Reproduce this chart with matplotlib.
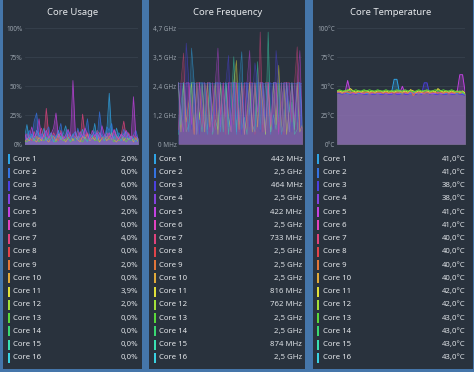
import numpy as np
import matplotlib
matplotlib.use("Agg")
import matplotlib.pyplot as plt
from matplotlib.patches import Rectangle

plt.rcParams['font.family'] = ['Noto Sans', 'DejaVu Sans']

W, H = 474, 372

# ---------------- data ----------------
titles = ["Core Usage", "Core Frequency", "Core Temperature"]
core_names = [f"Core {i}" for i in range(1, 17)]
core_colors = ["#2fa3e3", "#3472e0", "#4b40de", "#8442de", "#c242e0", "#e042bf",
               "#e0437d", "#e0444a", "#e0753a", "#e0aa3a", "#e0e03a", "#a2e03a",
               "#5ad83a", "#3ad872", "#3ae0b2", "#3ad2e2"]

usage_values = ["2,0%", "0,0%", "6,0%", "0,0%", "2,0%", "0,0%", "4,0%", "0,0%",
                "2,0%", "0,0%", "3,9%", "2,0%", "0,0%", "0,0%", "0,0%", "0,0%"]
freq_values = ["442 MHz", "2,5 GHz", "464 MHz", "2,5 GHz", "422 MHz", "2,5 GHz",
               "733 MHz", "2,5 GHz", "2,5 GHz", "2,5 GHz", "816 MHz", "762 MHz",
               "2,5 GHz", "2,5 GHz", "874 MHz", "2,5 GHz"]
temp_values = ["41,0°C", "41,0°C", "38,0°C", "38,0°C", "41,0°C", "41,0°C",
               "40,0°C", "40,0°C", "40,0°C", "40,0°C", "42,0°C", "42,0°C",
               "43,0°C", "43,0°C", "43,0°C", "43,0°C"]

usage_ticks = ["0%", "25%", "50%", "75%", "100%"]
freq_ticks = ["0 MHz", "1,2 GHz", "2,4 GHz", "3,5 GHz", "4,7 GHz"]
temp_ticks = ["0°C", "25°C", "50°C", "75°C", "100°C"]

# usage history (%), per core
usage_core1 = [6, 17, 4, 9, 3, 12, 8, 5, 14, 3, 7, 10, 2, 6, 12, 4, 9, 16, 5, 3, 8, 11, 4, 7,
               13, 5, 2, 9, 6, 18, 4, 10, 7, 3, 12, 44, 8, 5, 14, 6, 3, 9, 11, 4, 7, 5, 2, 6]
usage_core2 = [3, 8, 12, 5, 20, 27, 6, 9, 4, 11, 15, 3, 8, 6, 10, 18, 4, 7, 12, 5, 9, 3, 14, 6,
               8, 10, 22, 4, 7, 11, 5, 28, 9, 6, 15, 12, 18, 4, 8, 10, 6, 13, 5, 9, 3, 8, 12, 4]
usage_core5 = [10, 4, 7, 15, 6, 9, 22, 4, 8, 12, 5, 9, 14, 27, 6, 10, 4, 8, 13, 7, 55, 9, 5, 11,
               6, 14, 8, 4, 12, 7, 10, 5, 16, 8, 6, 10, 4, 13, 7, 5, 9, 6, 12, 8, 4, 41, 7, 5]
usage_core7 = [4, 9, 6, 3, 11, 5, 8, 14, 6, 31, 8, 4, 10, 6, 3, 12, 7, 5, 9, 4, 8, 6, 12, 4,
               26, 7, 10, 5, 8, 6, 12, 9, 4, 7, 10, 5, 8, 12, 6, 4, 9, 20, 6, 10, 5, 8, 4, 6]
usage_core10 = [2, 5, 3, 7, 4, 2, 6, 3, 8, 4, 2, 5, 7, 3, 9, 4, 6, 2, 5, 8, 3, 6, 4, 2,
                7, 5, 9, 3, 6, 4, 8, 2, 5, 7, 3, 6, 10, 4, 2, 5, 8, 3, 6, 4, 7, 2, 5, 3]
usage_core13 = [3, 2, 6, 4, 3, 7, 2, 5, 3, 6, 4, 8, 3, 2, 5, 7, 3, 4, 6, 2, 5, 3, 7, 4,
                2, 6, 3, 5, 8, 3, 4, 2, 6, 3, 7, 4, 5, 2, 8, 3, 4, 6, 2, 5, 3, 4, 6, 2]

# frequency history (GHz)
freq_core2 = [2.5, 2.5, 2.5, 2.5, 2.5, 2.5, 2.5, 2.5, 2.5, 2.5, 2.5, 2.5, 2.5, 2.5, 2.5, 2.5,
              2.5, 2.5, 2.5, 2.5, 2.5, 2.5, 2.5, 2.5, 2.5, 2.5, 2.5, 2.5, 2.5, 2.5, 2.5, 2.5,
              2.5, 2.5, 2.5, 2.5, 2.5, 2.5, 2.5, 2.5, 2.5, 2.5, 2.5, 2.5, 2.5, 2.5, 2.5, 2.5]
freq_core1 = [2.5, 0.8, 2.5, 1.4, 0.5, 3.9, 2.5, 0.6, 2.5, 2.5, 1.1, 0.4, 2.5, 0.9, 2.5, 2.5,
              0.5, 1.8, 2.5, 0.7, 2.5, 2.5, 0.4, 2.5, 3.75, 0.6, 2.5, 1.2, 2.5, 0.5, 2.5, 2.5,
              0.8, 2.5, 1.5, 0.4, 2.5, 2.5, 0.9, 2.5, 0.5, 2.5, 1.3, 2.5, 0.6, 2.5, 2.5, 0.44]
freq_core3 = [0.5, 2.5, 1.0, 4.1, 2.5, 0.6, 1.6, 2.5, 0.4, 2.5, 2.5, 0.9, 0.5, 2.5, 1.2, 2.5,
              2.5, 0.6, 2.5, 3.6, 0.5, 2.5, 1.0, 2.5, 0.4, 2.5, 2.5, 0.7, 1.9, 3.3, 2.5, 0.5,
              2.5, 1.1, 2.5, 2.5, 0.6, 3.8, 2.5, 0.4, 2.5, 1.7, 2.5, 0.5, 2.5, 0.9, 2.5, 0.46]
freq_core5 = [2.5, 1.2, 0.5, 2.5, 2.5, 0.8, 2.5, 0.4, 2.5, 1.5, 0.6, 2.5, 2.5, 0.5, 2.5, 3.9,
              0.7, 2.5, 1.1, 2.5, 0.5, 2.5, 2.5, 0.9, 2.5, 0.4, 2.5, 3.8, 0.6, 2.5, 1.3, 2.5,
              2.5, 0.5, 2.5, 0.8, 2.5, 2.5, 0.4, 1.6, 2.5, 2.5, 0.5, 2.5, 1.0, 2.5, 3.8, 0.42]
freq_core7 = [0.6, 2.5, 3.7, 0.5, 2.5, 1.3, 0.4, 2.5, 2.5, 0.7, 2.5, 1.9, 0.5, 2.5, 0.6, 2.5,
              1.2, 2.5, 0.4, 2.5, 2.5, 0.8, 2.5, 0.5, 1.4, 2.5, 0.6, 2.5, 2.5, 0.4, 0.9, 4.55,
              0.5, 2.5, 2.5, 0.7, 1.8, 2.5, 0.5, 2.5, 0.4, 2.5, 2.5, 0.9, 2.5, 3.95, 0.6, 0.73]
freq_core11 = [2.5, 0.5, 2.5, 0.9, 1.7, 2.5, 0.4, 2.5, 1.0, 2.5, 0.5, 2.5, 0.7, 1.5, 2.5, 0.4,
               2.5, 0.6, 2.5, 1.1, 0.5, 2.5, 3.4, 0.6, 2.5, 0.4, 1.2, 2.5, 0.5, 2.5, 0.7, 2.5,
               1.6, 0.4, 2.5, 0.5, 2.5, 0.8, 3.2, 0.5, 2.5, 0.4, 1.4, 2.5, 0.6, 2.5, 0.5, 0.82]
freq_core15 = [0.4, 1.6, 2.5, 0.5, 0.8, 2.5, 2.5, 0.4, 1.3, 0.5, 2.5, 0.6, 2.5, 0.4, 1.0, 0.6,
               2.5, 0.5, 2.5, 0.4, 1.5, 3.55, 0.5, 2.5, 0.6, 1.1, 0.4, 2.5, 0.8, 0.5, 3.35, 0.6,
               2.5, 0.4, 4.55, 0.5, 1.2, 0.6, 2.5, 0.4, 0.9, 2.5, 0.5, 1.7, 0.4, 0.6, 2.5, 0.87]

# temperature history (°C)
temp_core1 = [45, 45, 44, 45, 44, 44, 45, 44, 44, 45, 44, 44, 44, 45, 44, 44, 44, 45, 44, 44, 44, 56, 56, 44,
              44, 45, 44, 44, 45, 44, 44, 44, 44, 45, 44, 44, 44, 45, 44, 44, 44, 45, 44, 44, 44, 45, 44, 44]
temp_core3 = [44, 44, 43, 44, 44, 43, 44, 43, 44, 44, 43, 43, 44, 43, 43, 44, 43, 43, 44, 43, 43, 44, 43, 43,
              44, 43, 43, 44, 43, 43, 44, 43, 53, 53, 43, 44, 43, 43, 44, 43, 43, 44, 43, 43, 44, 43, 43, 42]
temp_core5 = [45, 45, 45, 44, 55, 45, 44, 44, 45, 44, 44, 45, 44, 44, 45, 44, 44, 45, 44, 44, 44, 45, 44, 44,
              50, 44, 44, 45, 44, 44, 45, 44, 44, 45, 44, 44, 44, 45, 44, 44, 45, 44, 44, 44, 45, 60, 60, 44]
temp_core9 = [45, 45, 44, 45, 45, 44, 45, 44, 45, 45, 44, 45, 44, 45, 44, 45, 45, 44, 45, 44, 45, 44, 45, 45,
              44, 45, 44, 47, 42, 45, 44, 45, 44, 45, 44, 45, 45, 44, 45, 44, 45, 44, 45, 44, 45, 44, 45, 44]
temp_core11 = [46, 46, 45, 46, 46, 48, 46, 45, 46, 45, 46, 46, 45, 46, 45, 46, 46, 45, 46, 45, 46, 45, 46, 46,
               45, 46, 45, 47, 46, 45, 46, 45, 46, 46, 45, 46, 45, 48, 46, 45, 46, 45, 46, 45, 46, 45, 46, 44]
temp_core13 = [46, 47, 46, 46, 47, 46, 46, 47, 46, 46, 47, 46, 47, 46, 46, 47, 46, 46, 47, 46, 46, 46, 47, 46,
               46, 47, 46, 46, 45, 46, 47, 46, 46, 47, 46, 46, 47, 46, 46, 47, 46, 46, 47, 46, 45, 46, 45, 43]

# (core index, values) – fill drawn in this order
usage_series = [(12, usage_core13), (9, usage_core10), (6, usage_core7), (1, usage_core2),
                (0, usage_core1), (4, usage_core5)]
freq_series = [(14, freq_core15), (10, freq_core11), (0, freq_core1), (1, freq_core2),
               (2, freq_core3), (6, freq_core7), (4, freq_core5)]
temp_series = [(12, temp_core13), (10, temp_core11), (8, temp_core9), (0, temp_core1),
               (2, temp_core3), (4, temp_core5)]
# line stacking order for temperature (green on top)
temp_line_order = [(2, temp_core3), (0, temp_core1), (4, temp_core5), (8, temp_core9),
                   (10, temp_core11), (12, temp_core13)]

# ---------------- layout ----------------
BG = "#4576aa"
PANEL = "#29323d"
NAME_C = "#e6e9ec"
VAL_C = "#dde1e5"
AX_C = "#98a1ab"
GRID_C = "#3a4450"

fig = plt.figure(figsize=(W / 100, H / 100), dpi=100)
fig.patch.set_facecolor(BG)

bg = fig.add_axes([0, 0, 1, 1])
bg.set_xlim(0, W)
bg.set_ylim(H, 0)
bg.axis("off")

panels = [(3, 142), (149, 305), (313, 473)]
for x0, x1 in panels:
    bg.add_patch(Rectangle((x0, 0), x1 - x0, 369, facecolor=PANEL, edgecolor="none"))

title_x = [73, 228, 391]
for t, tx in zip(titles, title_x):
    bg.text(tx, 12.5, t, color=NAME_C, fontsize=6.8, ha="center", va="center")

bar_x = [8, 154, 317.5]
name_x = [13.3, 159, 322.7]
val_x = [138.3, 302.3, 465.7]
value_lists = [usage_values, freq_values, temp_values]
row0, dy = 159.3, 13.23
for p in range(3):
    for i, (nm, col) in enumerate(zip(core_names, core_colors)):
        y = row0 + dy * i
        bg.add_patch(Rectangle((bar_x[p], y - 5), 2, 10, facecolor=col, edgecolor="none"))
        bg.text(name_x[p], y, nm, color=NAME_C, fontsize=5.6, ha="left", va="center")
        bg.text(val_x[p], y, value_lists[p][i], color=VAL_C, fontsize=5.6,
                ha="right", va="center")


def make_ax(x0, x1, y0=28.3, y1=144.3):
    ax = fig.add_axes([x0 / W, 1 - y1 / H, (x1 - x0) / W, (y1 - y0) / H])
    ax.set_facecolor("none")
    for s in ax.spines.values():
        s.set_visible(False)
    ax.tick_params(axis="both", length=0, pad=1.3, labelsize=4.6, labelcolor=AX_C)
    ax.set_xticks([])
    return ax


def draw_chart(ax, series, ymax, ticks, falpha, lw=0.6, lalpha=1.0, line_series=None):
    n = len(series[0][1])
    x = np.arange(n)
    for lvl in np.linspace(0, ymax, 5)[1:]:
        ax.axhline(lvl, color=GRID_C, lw=0.5, zorder=0)
    for ci, vals in series:
        ax.fill_between(x, 0, vals, color=core_colors[ci], alpha=falpha, lw=0, zorder=1)
    for ci, vals in (line_series or series):
        ax.plot(x, vals, color=core_colors[ci], lw=lw, alpha=lalpha, zorder=2)
    ax.set_xlim(0, n - 1)
    ax.set_ylim(0, ymax)
    ax.set_yticks(np.linspace(0, ymax, 5))
    ax.set_yticklabels(ticks)


ax1 = make_ax(24.5, 138.3)
draw_chart(ax1, usage_series, 100, usage_ticks, 0.35, lw=0.55, lalpha=0.8)
ax2 = make_ax(178.3, 302.5)
draw_chart(ax2, freq_series, 4.7, freq_ticks, 0.2, lw=0.45, lalpha=0.55)
ax3 = make_ax(336.7, 465.3)
draw_chart(ax3, temp_series, 100, temp_ticks, 0.27, lw=0.7, line_series=temp_line_order)

fig.savefig("out.png", dpi=100, facecolor=BG)
